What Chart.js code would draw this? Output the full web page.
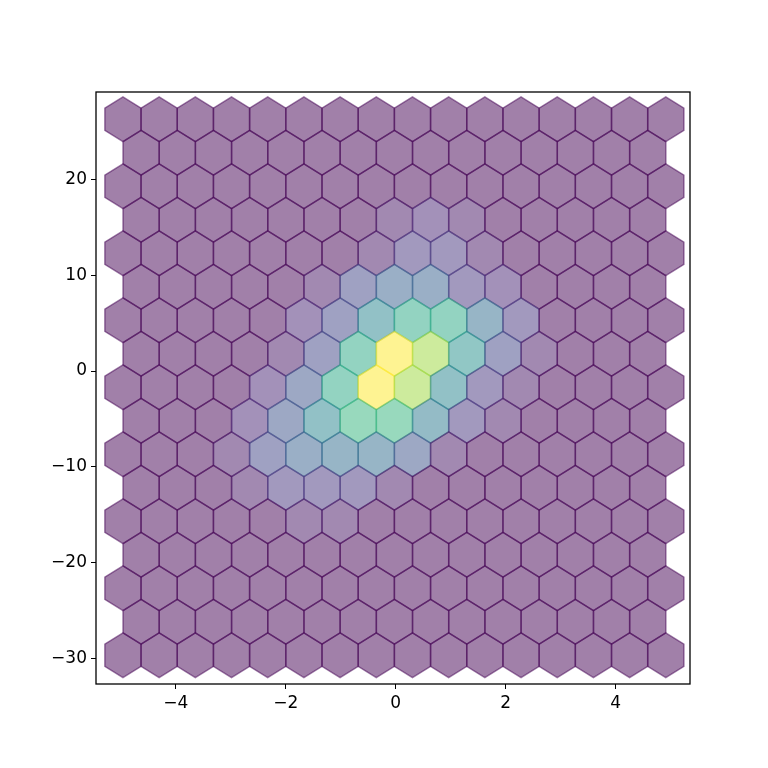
<!DOCTYPE html>
<html><head><meta charset="utf-8">
<script src="https://cdn.jsdelivr.net/npm/chart.js@4"></script>
<style>html,body{margin:0;padding:0;background:#fff}#c{width:768px;height:768px}</style>
</head><body><canvas id="c" width="768" height="768"></canvas>
<script>
// hex grid: rows top to bottom, even rows = long rows (16 cells), odd rows = short rows (15 cells)
const longRowX0 = -4.96, shortRowX0 = -4.63, colStep = 0.658;
const rowY = [26.3,22.8,19.3,15.8,12.3,8.8,5.3,1.8,-1.7,-5.2,-8.7,-12.2,-15.7,-19.2,-22.7,-26.2,-29.7];
const counts = [
 [0,0,0,0,0,0,0,0,0,0,0,0,0,0,0,0],
 [0,0,0,0,0,0,0,0,0,0,0,0,0,0,0],
 [0,0,0,0,0,0,0,0,0,0,0,0,0,0,0,0],
 [0,0,0,0,0,0,0,1,2,1,0,0,0,0,0],
 [0,0,0,0,0,0,0,1,3,3,1,0,0,0,0,0],
 [0,0,0,0,0,1,4,6,6,3,2,0,0,0,0],
 [0,0,0,0,0,2,4,9,12,12,7,3,0,0,0,0],
 [0,0,0,0,1,4,12,20,17,10,4,1,0,0,0],
 [0,0,0,0,2,5,12,20,17,9,3,1,0,0,0,0],
 [0,0,0,2,5,9,13,13,8,3,1,0,0,0,0],
 [0,0,0,1,4,6,7,7,5,1,0,0,0,0,0,0],
 [0,0,0,1,3,3,3,1,0,0,0,0,0,0,0],
 [0,0,0,0,0,1,1,0,0,0,0,0,0,0,0,0],
 [0,0,0,0,0,0,0,0,0,0,0,0,0,0,0],
 [0,0,0,0,0,0,0,0,0,0,0,0,0,0,0,0],
 [0,0,0,0,0,0,0,0,0,0,0,0,0,0,0],
 [0,0,0,0,0,0,0,0,0,0,0,0,0,0,0,0]
];
const xTicks = [-4,-2,0,2,4];
const yTicks = [-30,-20,-10,0,10,20];

const pts = [];
rowY.forEach((y,r)=>{
  const x0 = r%2===0 ? longRowX0 : shortRowX0;
  counts[r].forEach((c,i)=>pts.push({x:x0+i*colStep, y:y, c:c}));
});
const maxC = Math.max(...pts.map(p=>p.c));
const vir = [[68,1,84],[72,40,120],[62,74,137],[49,104,142],[38,130,142],[31,158,137],[53,183,121],[109,205,89],[180,222,44],[253,231,37]];
function viridis(t){
  t=Math.max(0,Math.min(1,t))*(vir.length-1);
  const i=Math.min(vir.length-2,Math.floor(t)), f=t-i;
  return vir[i].map((v,k)=>Math.round(v+(vir[i+1][k]-v)*f));
}
const hexPlugin = {
  id:'hex',
  beforeDatasetsDraw(chart){
    const {ctx, scales:{x,y}, chartArea:a} = chart;
    ctx.save();
    ctx.beginPath(); ctx.rect(a.left,a.top,a.right-a.left,a.bottom-a.top); ctx.clip();
    const hw = colStep/2, ry = (rowY[0]-rowY[2])/3;
    chart.data.datasets[0].data.forEach(p=>{
      const col = viridis(p.c/maxC);
      const vs = [[0,-ry],[hw,-ry/2],[hw,ry/2],[0,ry],[-hw,ry/2],[-hw,-ry/2]];
      ctx.beginPath();
      vs.forEach(([dx,dy],k)=>{
        const px=x.getPixelForValue(p.x+dx), py=y.getPixelForValue(p.y-dy);
        k?ctx.lineTo(px,py):ctx.moveTo(px,py);
      });
      ctx.closePath();
      ctx.fillStyle=`rgba(${col},0.5)`; ctx.fill();
      ctx.strokeStyle=`rgba(${col},0.5)`; ctx.lineWidth=1.5; ctx.stroke();
    });
    ctx.restore();
  },
  afterDraw(chart){
    const {ctx, chartArea:a}=chart;
    ctx.save(); ctx.strokeStyle='#000'; ctx.lineWidth=1.3;
    ctx.strokeRect(a.left,a.top,a.right-a.left,a.bottom-a.top); ctx.restore();
  }
};
const fmt = v => String(v).replace('-','\u2212');
new Chart(document.getElementById('c'),{
  type:'scatter',
  data:{datasets:[{data:pts, pointRadius:0, pointHoverRadius:0}]},
  options:{
    responsive:false, animation:false, events:[],
    layout:{padding:{left:0,right:78,top:92,bottom:0}},
    plugins:{legend:{display:false},tooltip:{enabled:false}},
    scales:{
      x:{type:'linear',min:-5.45,max:5.35,
        afterBuildTicks:s=>{s.ticks=xTicks.map(v=>({value:v}));},
        afterFit:s=>{s.height=84;},
        grid:{drawOnChartArea:false,drawTicks:true,tickLength:5,color:'#000'},
        border:{display:false},
        ticks:{color:'#000',font:{family:'DejaVu Sans',size:17},padding:4,callback:fmt,maxRotation:0}},
      y:{type:'linear',min:-32.7,max:29.15,
        afterBuildTicks:s=>{s.ticks=yTicks.map(v=>({value:v}));},
        afterFit:s=>{s.width=96;},
        grid:{drawOnChartArea:false,drawTicks:true,tickLength:5,color:'#000'},
        border:{display:false},
        ticks:{color:'#000',font:{family:'DejaVu Sans',size:17},padding:4,callback:fmt}}
    }
  },
  plugins:[hexPlugin]
});
</script></body></html>
